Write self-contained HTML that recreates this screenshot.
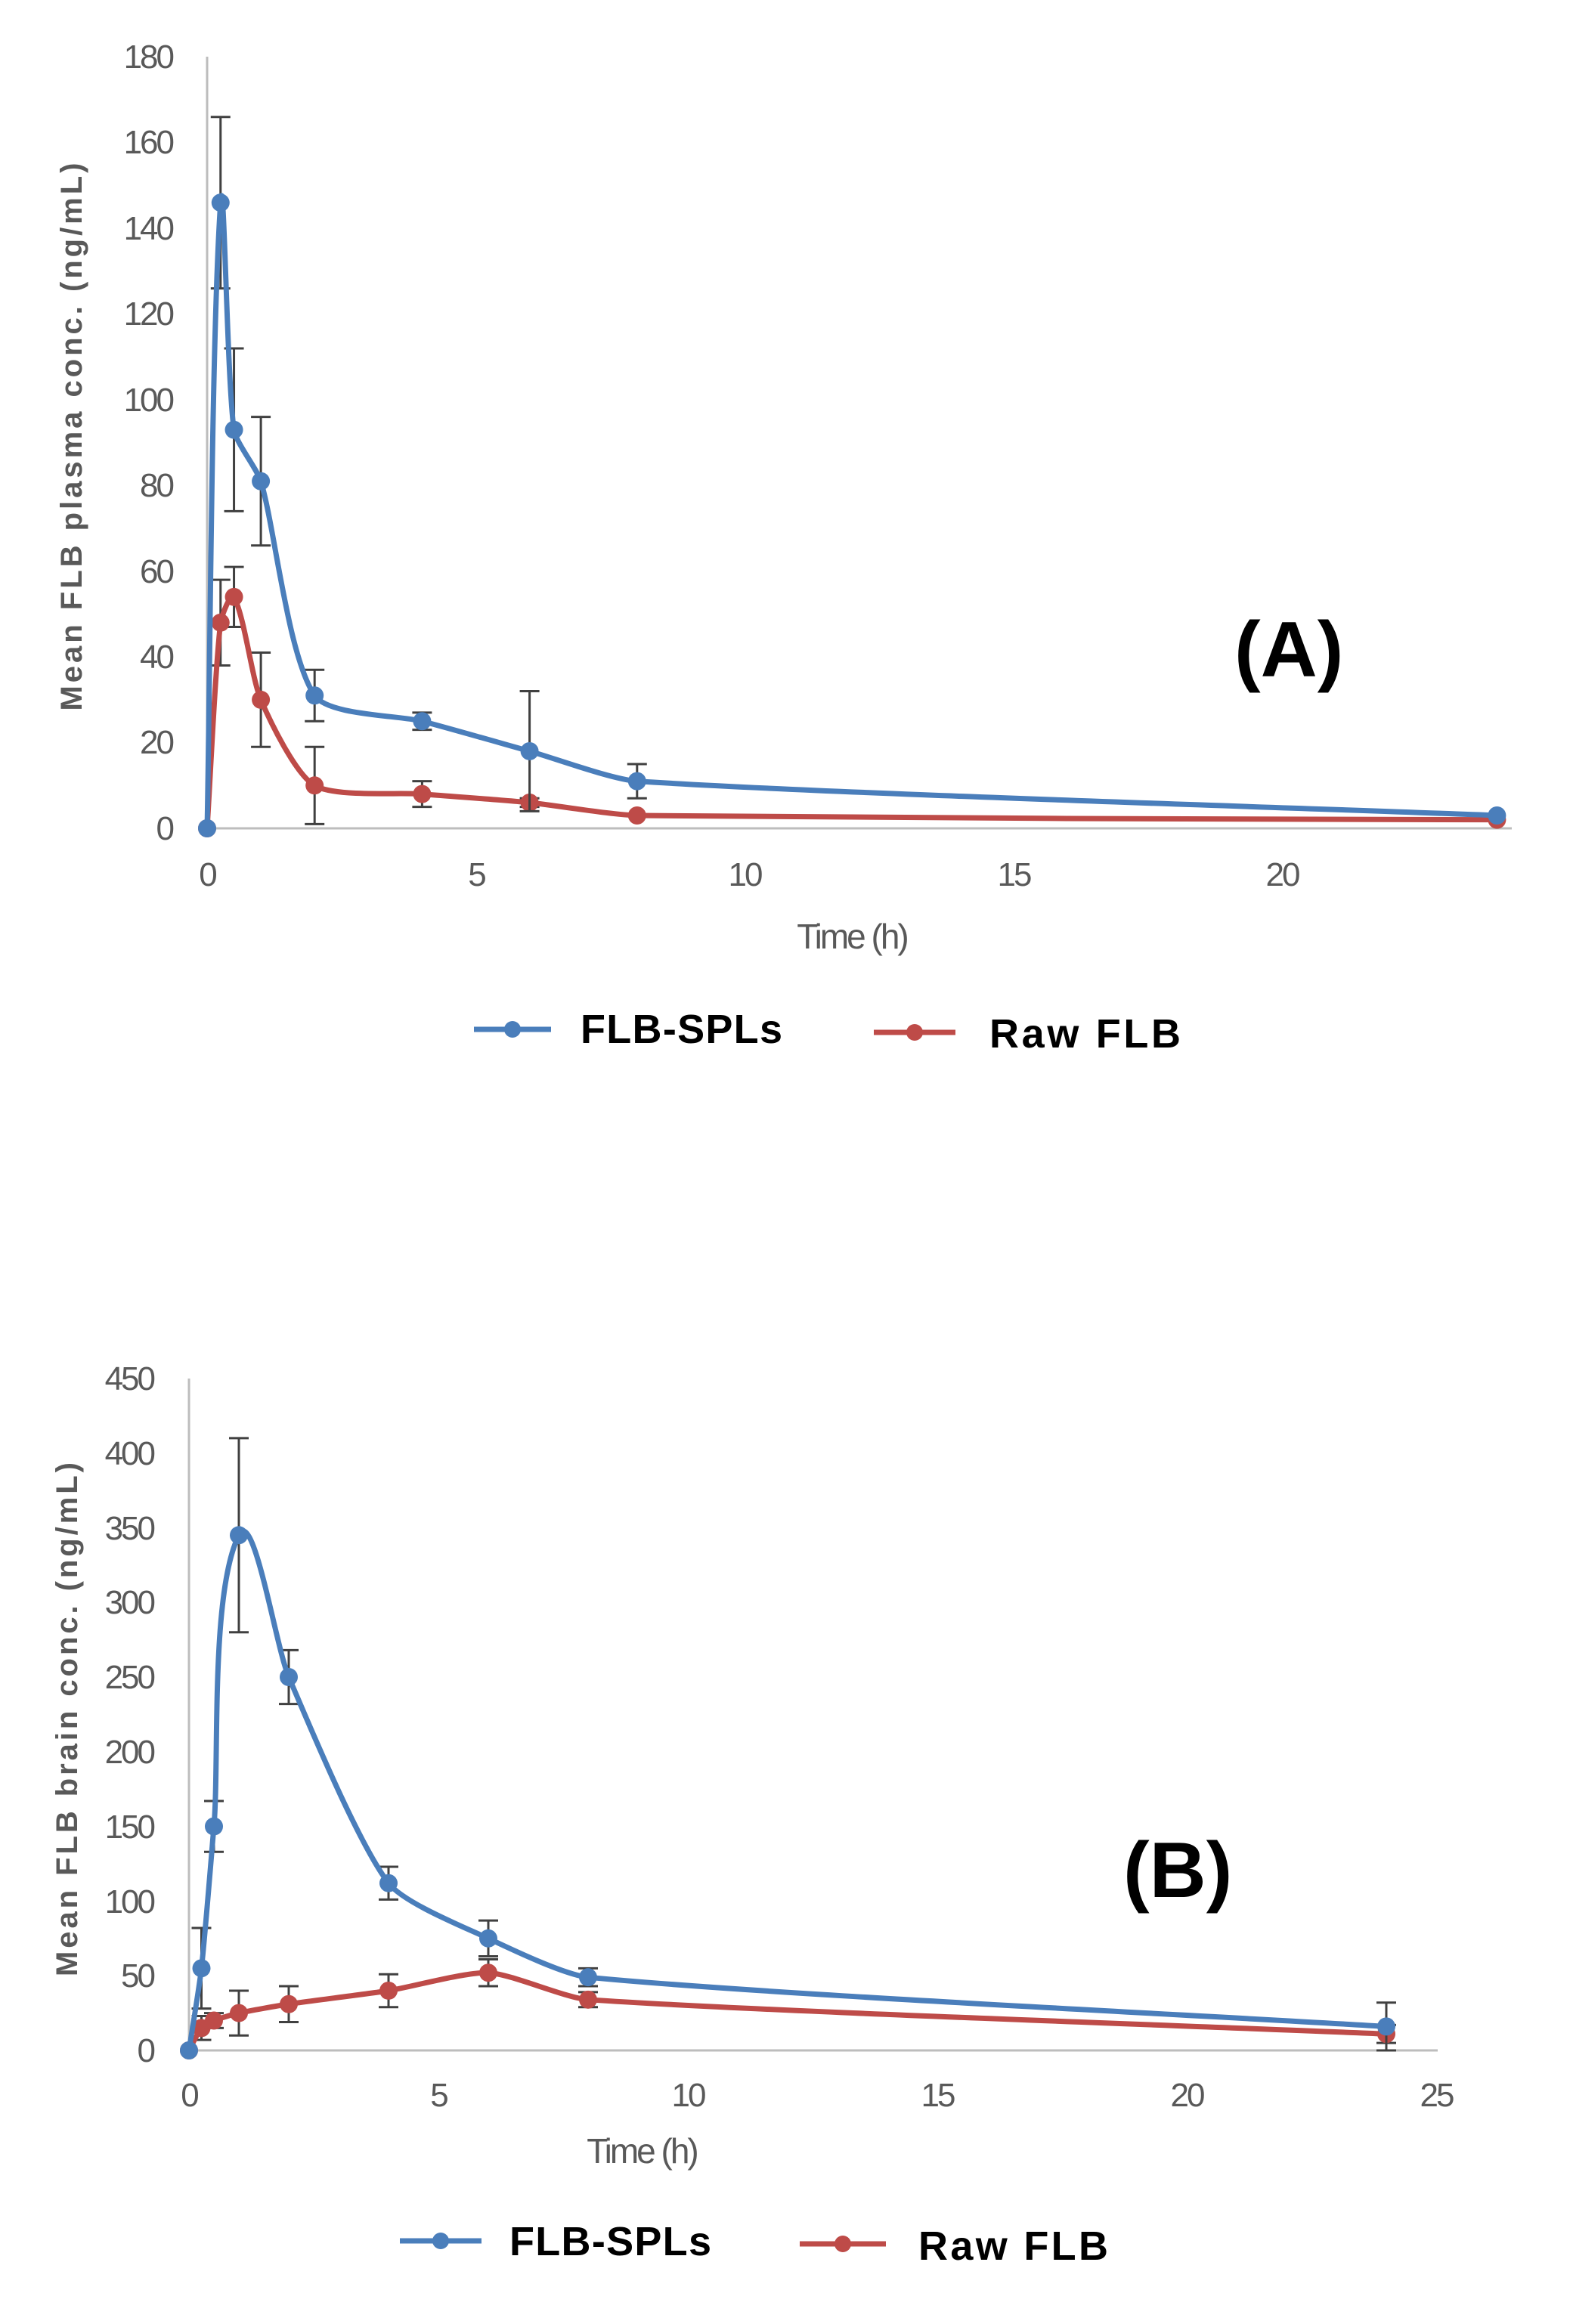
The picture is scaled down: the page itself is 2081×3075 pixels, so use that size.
<!DOCTYPE html>
<html><head><meta charset="utf-8"><style>
html,body{margin:0;padding:0;background:#fff}
svg{display:block}
.t{font-family:"Liberation Sans",sans-serif;fill:#595959;font-size:44px;letter-spacing:-3px}
.b{font-family:"Liberation Sans",sans-serif;font-weight:bold;fill:#000}
</style></head><body>
<svg id="s" width="2081" height="3075" viewBox="0 0 2081 3075" xmlns="http://www.w3.org/2000/svg">
<g id="A">
<line x1="274" y1="75" x2="274" y2="1096" stroke="#bdbdbd" stroke-width="3"/>
<line x1="274" y1="1096" x2="2000" y2="1096" stroke="#bdbdbd" stroke-width="3"/>
<g class="t" text-anchor="end">
<text x="228" y="90">180</text><text x="228" y="203">160</text><text x="228" y="317">140</text>
<text x="228" y="430">120</text><text x="228" y="544">100</text><text x="228" y="657">80</text>
<text x="228" y="771">60</text><text x="228" y="884">40</text><text x="228" y="997">20</text><text x="228" y="1111">0</text>
</g>
<g class="t" text-anchor="middle">
<text x="274" y="1172">0</text><text x="630" y="1172">5</text><text x="985" y="1172">10</text>
<text x="1341" y="1172">15</text><text x="1696" y="1172">20</text>
<text x="1127" y="1255" style="font-size:46px">Time (h)</text>
</g>
<text class="b" transform="translate(108,578) rotate(-90)" text-anchor="middle" style="font-size:40px;fill:#595959" textLength="725">Mean FLB plasma conc. (ng/mL)</text>
<text class="b" x="1633" y="895" style="font-size:104px">(A)</text>
<line x1="627" y1="1362" x2="729" y2="1362" stroke="#4a7ebb" stroke-width="7"/><circle cx="678" cy="1362" r="11" fill="#4a7ebb"/>
<text class="b" x="768" y="1380" style="font-size:54px" textLength="267">FLB-SPLs</text>
<line x1="1156" y1="1366" x2="1264" y2="1366" stroke="#be4b48" stroke-width="7"/><circle cx="1210" cy="1366" r="11" fill="#be4b48"/>
<text class="b" x="1309" y="1386" style="font-size:54px" textLength="253">Raw FLB</text>
</g>
<g id="B">
<line x1="250" y1="1824" x2="250" y2="2713" stroke="#bdbdbd" stroke-width="3"/>
<line x1="250" y1="2713" x2="1902" y2="2713" stroke="#bdbdbd" stroke-width="3"/>
<g class="t" text-anchor="end">
<text x="203" y="1839">450</text><text x="203" y="1938">400</text><text x="203" y="2037">350</text>
<text x="203" y="2135">300</text><text x="203" y="2234">250</text><text x="203" y="2333">200</text>
<text x="203" y="2432">150</text><text x="203" y="2531">100</text><text x="203" y="2629">50</text><text x="203" y="2728">0</text>
</g>
<g class="t" text-anchor="middle">
<text x="250" y="2787">0</text><text x="580" y="2787">5</text><text x="910" y="2787">10</text>
<text x="1240" y="2787">15</text><text x="1570" y="2787">20</text><text x="1900" y="2787">25</text>
<text x="849" y="2862" style="font-size:46px">Time (h)</text>
</g>
<text class="b" transform="translate(102,2275) rotate(-90)" text-anchor="middle" style="font-size:40px;fill:#595959" textLength="680">Mean FLB brain conc. (ng/mL)</text>
<text class="b" x="1486" y="2510" style="font-size:104px">(B)</text>
<line x1="529" y1="2965" x2="637" y2="2965" stroke="#4a7ebb" stroke-width="7"/><circle cx="583" cy="2965" r="11" fill="#4a7ebb"/>
<text class="b" x="674" y="2984" style="font-size:54px" textLength="267">FLB-SPLs</text>
<line x1="1058" y1="2969" x2="1172" y2="2969" stroke="#be4b48" stroke-width="7"/><circle cx="1115" cy="2969" r="11" fill="#be4b48"/>
<text class="b" x="1215" y="2990" style="font-size:54px" textLength="251">Raw FLB</text>
</g>
</svg>
<script>
var NS="http://www.w3.org/2000/svg",svg=document.getElementById("s");
function el(n,a){var e=document.createElementNS(NS,n);for(var k in a)e.setAttribute(k,a[k]);svg.appendChild(e);return e;}
function tan(a,c){var dx=c[0]-a[0],dy=c[1]-a[1],l=Math.sqrt(dx*dx+dy*dy)||1;return [dx/l,dy/l];}
function draw(x0,px,y0,py,data,col){
 var p=data.map(function(d){return [x0+d[0]*px,y0-d[1]*py,d[2]*py];});
 p.forEach(function(q){if(q[2]>0){el("line",{x1:q[0],y1:q[1]-q[2],x2:q[0],y2:q[1]+q[2],stroke:"#404040","stroke-width":3});
  el("line",{x1:q[0]-13,y1:q[1]-q[2],x2:q[0]+13,y2:q[1]-q[2],stroke:"#404040","stroke-width":3});
  el("line",{x1:q[0]-13,y1:q[1]+q[2],x2:q[0]+13,y2:q[1]+q[2],stroke:"#404040","stroke-width":3});}});
 var d="M"+p[0][0]+","+p[0][1],k=0.22;
 for(var i=0;i<p.length-1;i++){var a=p[i-1]||p[i],b=p[i],c=p[i+1],e=p[i+2]||c;
  var L=Math.sqrt(Math.pow(c[0]-b[0],2)+Math.pow(c[1]-b[1],2));
  var t1=tan(a,c),t2=tan(b,e);
  var c1x=b[0]+t1[0]*L*k,c1y=b[1]+t1[1]*L*k,c2x=c[0]-t2[0]*L*k,c2y=c[1]-t2[1]*L*k;
  d+=" C"+c1x+","+c1y+" "+c2x+","+c2y+" "+c[0]+","+c[1];}
 el("path",{d:d,fill:"none",stroke:col,"stroke-width":7,"stroke-linejoin":"round"});
 p.forEach(function(q){el("circle",{cx:q[0],cy:q[1],r:12,fill:col});});
}
var ax=274,apx=71.1,ay=1096,apy=113.4/20;
draw(ax,apx,ay,apy,[[0,0,0],[0.25,48,10],[0.5,54,7],[1,30,11],[2,10,9],[4,8,3],[6,6,1],[8,3,0],[24,2,0]],"#be4b48");
draw(ax,apx,ay,apy,[[0,0,0],[0.25,146,20],[0.5,93,19],[1,81,15],[2,31,6],[4,25,2],[6,18,14],[8,11,4],[24,3,0]],"#4a7ebb");
var bx=250,bpx=66,by=2713,bpy=98.8/50;
draw(bx,bpx,by,bpy,[[0,0,0],[0.25,15,8],[0.5,20,5],[1,25,15],[2,31,12],[4,40,11],[6,52,9],[8,34,5],[24,11,6]],"#be4b48");
draw(bx,bpx,by,bpy,[[0,0,0],[0.25,55,27],[0.5,150,17],[1,345,65],[2,250,18],[4,112,11],[6,75,12],[8,49,6],[24,16,16]],"#4a7ebb");
</script>
</body></html>
